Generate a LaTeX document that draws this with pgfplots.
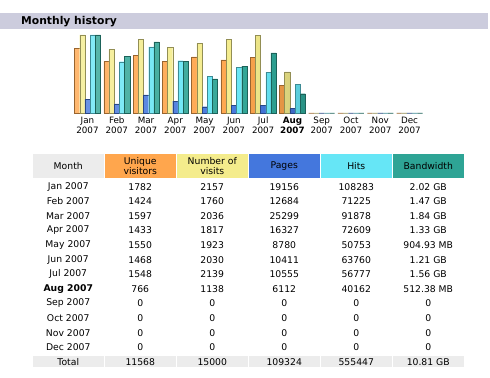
\documentclass[border=0pt]{standalone}
\usepackage{pgfplots}
\pgfplotsset{compat=1.18}
\usepackage{pgfplotstable}
\usepackage{fontspec}
\setmainfont{DejaVu Sans}
\definecolor{cu}{HTML}{FFA64D}
\definecolor{cv}{HTML}{F4EC8C}
\definecolor{cp}{HTML}{4477DD}
\definecolor{ch}{HTML}{66E6F6}
\definecolor{ck}{HTML}{2EA495}
\definecolor{band}{HTML}{CCCCDD}
\definecolor{cellg}{HTML}{ECECEC}
\pgfplotstableread{
x uv vi pa hi bw
0 1782 2157 19156 108283 2.02
1 1424 1760 12684 71225 1.47
2 1597 2036 25299 91878 1.84
3 1433 1817 16327 72609 1.33
4 1550 1923 8780 50753 0.8837
5 1468 2030 10411 63760 1.21
6 1548 2139 10555 56777 1.56
7 766 1138 6112 40162 0.5004
8 0 0 0 0 0
9 0 0 0 0 0
10 0 0 0 0 0
11 0 0 0 0 0
}\data
\newcommand{\fs}{\fontsize{9.3}{10.5}\selectfont}
\begin{document}
\begin{tikzpicture}
\begin{scope}[x=1bp,y=1bp]
\fill[white] (0,0) rectangle (490,377);
\useasboundingbox (0,0) rectangle (490,377);
\fill[band] (0,348) rectangle (488,364);
\node[anchor=west,inner sep=0,font=\fontsize{10.8}{12}\selectfont\bfseries] at (21,355.7) {Monthly history};
% header cells
\foreach \L/\c in {33/cellg,105/cu,177/cv,249/cp,321/ch,393/ck}{
  \fill[\c] (\L,199) rectangle ++(70.5,24);
  \fill[cellg] (\L,9.7) rectangle ++(70.5,11.6);
}
\node[font=\fs] at (68.25,211) {Month};
\node[font=\fs,align=center,inner sep=0] at (140.25,211) {Unique\\visitors};
\node[font=\fs,align=center,inner sep=0] at (212.25,211) {Number of\\visits};
\node[font=\fs] at (284.25,211) {Pages};
\node[font=\fs] at (356.25,211) {Hits};
\node[font=\fs] at (428.25,211) {Bandwidth};
\foreach \m/\u/\v/\p/\h/\b [count=\i from 0] in {
 Jan 2007/1782/2157/19156/108283/2.02 GB,
 Feb 2007/1424/1760/12684/71225/1.47 GB,
 Mar 2007/1597/2036/25299/91878/1.84 GB,
 Apr 2007/1433/1817/16327/72609/1.33 GB,
 May 2007/1550/1923/8780/50753/904.93 MB,
 Jun 2007/1468/2030/10411/63760/1.21 GB,
 Jul 2007/1548/2139/10555/56777/1.56 GB,
 \textbf{Aug 2007}/766/1138/6112/40162/512.38 MB,
 Sep 2007/0/0/0/0/0,
 Oct 2007/0/0/0/0/0,
 Nov 2007/0/0/0/0/0,
 Dec 2007/0/0/0/0/0,
 Total/11568/15000/109324/555447/10.81 GB}{
  \pgfmathsetmacro{\Y}{190.3-14.6*\i}
  \node[font=\fs,inner sep=0] at (68.25,\Y) {\m};
  \node[font=\fs,inner sep=0] at (140.25,\Y) {\u};
  \node[font=\fs,inner sep=0] at (212.25,\Y) {\v};
  \node[font=\fs,inner sep=0] at (284.25,\Y) {\p};
  \node[font=\fs,inner sep=0] at (356.25,\Y) {\h};
  \node[font=\fs,inner sep=0] at (428.25,\Y) {\b};
}
\end{scope}
\begin{axis}[
  at={(87.5bp,264bp)}, anchor=origin,
  scale only axis, width=351.3bp, height=78bp,
  xmin=-0.5, xmax=11.5, ymin=0, ymax=1, clip=false,
  axis line style={draw=none}, ytick=\empty,
  xtick={0,...,11}, major tick length=0pt,
  xticklabels={{Jan\\2007},{Feb\\2007},{Mar\\2007},{Apr\\2007},{May\\2007},{Jun\\2007},{Jul\\2007},{\textbf{Aug}\\\textbf{2007}},{Sep\\2007},{Oct\\2007},{Nov\\2007},{Dec\\2007}},
  xticklabel style={align=center,font=\fontsize{8.8}{9.9}\selectfont,inner sep=0pt},
  tick label style={yshift=-4bp},
  ybar=0pt, bar width=5.2bp,
]
\addplot[draw=cu!60!black,line width=0.3bp,left color=cu!80!white,right color=cu!60!black,middle color=cu] table[x=x,y expr=\thisrow{uv}/2157]{\data};
\addplot[draw=cv!60!black,line width=0.3bp,left color=cv!80!white,right color=cv!60!black,middle color=cv] table[x=x,y expr=\thisrow{vi}/2157]{\data};
\addplot[draw=cp!60!black,line width=0.3bp,left color=cp!80!white,right color=cp!60!black,middle color=cp] table[x=x,y expr=\thisrow{pa}/108283]{\data};
\addplot[draw=ch!60!black,line width=0.3bp,left color=ch!80!white,right color=ch!60!black,middle color=ch] table[x=x,y expr=\thisrow{hi}/108283]{\data};
\addplot[draw=ck!60!black,line width=0.3bp,left color=ck!80!white,right color=ck!60!black,middle color=ck] table[x=x,y expr=\thisrow{bw}/2.02]{\data};
\end{axis}
\end{tikzpicture}
\end{document}
